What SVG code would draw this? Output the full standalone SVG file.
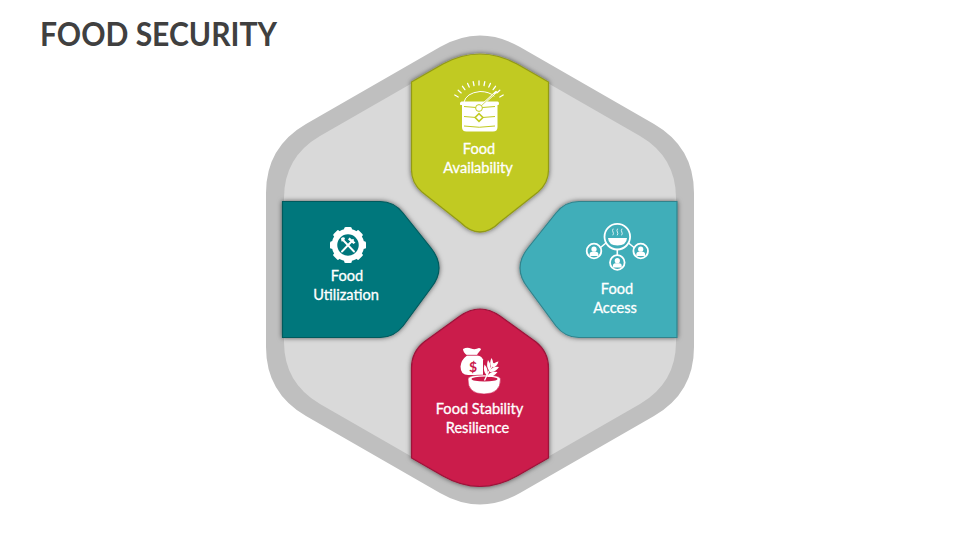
<svg xmlns="http://www.w3.org/2000/svg" xmlns:xlink="http://www.w3.org/1999/xlink" width="960" height="540" viewBox="0 0 960 540">
<style>
.t{font-family:Lato,"Open Sans",sans-serif;font-weight:700;font-size:32px;fill:#404040}
.l{font-family:Lato,"Open Sans",sans-serif;font-size:14.600px;font-weight:400;fill:#fff;stroke:#fff;stroke-width:.3px;text-anchor:middle}
.p{stroke-width:1.200;filter:url(#sh)}
.w{fill:#fff}
.ws{fill:none;stroke:#fff;stroke-linecap:round}
</style>
<defs>
<filter id="sh" x="-10%" y="-10%" width="120%" height="120%"><feDropShadow dx="0" dy="0" stdDeviation="2.500" flood-color="#000" flood-opacity="0.6"/></filter>
<g id="person"><circle r="7.300" fill="none" stroke="#fff" stroke-width="1.800"/><circle cy="-1.800" r="2.600" fill="#fff"/><path d="M-4.400 5V3.400Q-4.400 .8 -1.800 .8H1.800Q4.400 .8 4.400 3.400V5Z" fill="#fff"/></g>
<rect id="tooth" x="-3.800" y="-18" width="7.600" height="7" rx="1.500" fill="#fff"/>
</defs>
<rect width="960" height="540" fill="#fff"/>
<text class="t" x="40" y="46" textLength="237" lengthAdjust="spacingAndGlyphs">FOOD SECURITY</text>
<g id="hexagon">
<path fill="#BFBFBF" d="M440,47Q480,24 520,47L654,124Q694,147 694,193V347Q694,393 654,416L520,493Q480,516 440,493L306,416Q266,393 266,347V193Q266,147 306,124Z"/>
<path fill="#D9D9D9" d="M448,62.500Q480,44 512,62.500L640,136Q676,157 676,198V342Q676,383 640,404L512,477.500Q480,496 448,477.500L320,404Q284,383 284,342V198Q284,157 320,136Z"/>
</g>
<g id="connectors"></g>
<g id="node-availability">
<path class="p" fill="#C1CA20" stroke="#929A18" d="M411.500,82L443,64Q480,44 517,64L548.500,82V170Q548.500,183 538,192L500,222Q480,242 460,222L422,192Q411.500,183 411.500,170Z"/>
<path class="ws" stroke-width="1.300" d="M458.200 97L454.800 95M461.200 92.900L458.200 90.300M464.900 89.600L462.500 86.300M469.200 87.100L467.600 83.400M474 85.500L473.200 81.600M479 85V81M484 85.500L484.800 81.600M488.800 87.100L490.400 83.400M493.100 89.600L495.500 86.300M496.800 92.900L499.800 90.300M499.800 97L503.200 95"/>
<path class="ws" stroke-width="1" d="M464 102Q466 93 480 91.500Q489 91.500 494 96"/>
<path class="w" d="M462 105H460.500Q460 105 460 103.500T461.500 101.500H497.500Q499 101.500 499 103.500T497.500 105H497.500V127Q497.500 131.500 493 131.500H466.500Q462 131.500 462 127Z"/>
<path fill="none" stroke="#C1CA20" stroke-width="1" d="M464 106.500Q479 109 495 106.500M464 116.500Q479 119 495 116.500M464 126Q479 128.500 495 126"/>
<path d="M481 106L496 92" stroke="#fff" stroke-width="2.200" stroke-linecap="round"/>
<path d="M481 106L494 94" stroke="#C1CA20" stroke-width=".7"/>
<circle cx="479" cy="108" r="3.400" fill="#fff" stroke="#C1CA20" stroke-width="1"/>
<path d="M479 112.500L484 117.500L479 122.500L474 117.500Z" fill="#C1CA20"/><path d="M479 114.700L481.800 117.500L479 120.300L476.200 117.500Z" fill="#fff"/>
<text class="l" x="479" y="154">Food</text>
<text class="l" x="478" y="173">Availability</text>
</g>
<g id="node-utilization">
<path class="p" fill="#00777B" stroke="#005A5D" d="M282.500,201.500H380Q394,201.500 403,213L431,248Q447,268 431,288L403,326Q394,337.500 380,337.500H282.500Z"/>
<g transform="translate(348,245)">
<circle r="13.500" fill="none" stroke="#fff" stroke-width="5.500"/>
<use xlink:href="#tooth"/><use xlink:href="#tooth" transform="rotate(45)"/><use xlink:href="#tooth" transform="rotate(90)"/><use xlink:href="#tooth" transform="rotate(135)"/><use xlink:href="#tooth" transform="rotate(180)"/><use xlink:href="#tooth" transform="rotate(225)"/><use xlink:href="#tooth" transform="rotate(270)"/><use xlink:href="#tooth" transform="rotate(315)"/>
<path d="M-6 6.500L5 -5M6 6.500L-5 -5" stroke="#fff" stroke-width="1.900" stroke-linecap="round"/>
<path d="M1.500 -7.500L7.500 -2.500L5.500 -1L0 -5.500ZM-7 -6.500A3 3 0 0 1 -3 -7L-4 -4L-6.500 -3.500Z" fill="#fff"/>
</g>
<text class="l" x="347" y="281">Food</text>
<text class="l" x="346" y="300">Utilization</text>
</g>
<g id="node-access">
<path class="p" fill="#40AEB9" stroke="#31838C" d="M677,201.500H579Q565,201.500 556,213L528,248Q512,268 528,288L556,326Q565,337.500 579,337.500H677Z"/>
<circle cx="617.300" cy="236.700" r="12.800" fill="none" stroke="#fff" stroke-width="1.800"/>
<path class="w" d="M608 238H627Q626.500 245.500 617.500 245.500T608 238Z"/>
<path class="ws" stroke-width=".8" d="M613 229Q612 230.500 613 232T613 235M617.400 229Q616.400 230.500 617.400 232T617.400 235M621.800 229Q620.800 230.500 621.800 232T621.800 235"/>
<path class="ws" stroke-width="1.600" d="M606 243L600.500 247.500M628.500 243L634 247.500M617.300 249.500V255"/>
<use xlink:href="#person" transform="translate(594,251)"/>
<use xlink:href="#person" transform="translate(640.700,251)"/>
<use xlink:href="#person" transform="translate(617.300,262.500)"/>
<text class="l" x="617" y="294">Food</text>
<text class="l" x="615" y="313">Access</text>
</g>
<g id="node-stability">
<path class="p" fill="#CB1A4B" stroke="#9B1339" d="M411.500,458V368Q411.500,352 424,342L460,316Q480,302 500,316L536,342Q548.500,352 548.500,368V458L517,476Q480,497 443,476Z"/>
<path class="w" d="M463 349Q467 347 471 348.500Q475 350 479 348Q481 348 481 349.500L477 354.500Q481 356 483.500 360V375H470Q460.500 376 460.500 366.500Q461 360 467 355.500Q463 352 463 349Z"/>
<path d="M465 355.300H480" stroke="#CB1A4B" stroke-width=".8"/>
<text x="473" y="372" font-family="Lato,'Open Sans',sans-serif" font-size="14" font-weight="700" fill="#CB1A4B" text-anchor="middle">$</text>
<path d="M483 360L500 362V378L483 376Z" fill="#CB1A4B"/>
<path class="w" d="M468 379Q468 375 484 375T500.500 379Q500.500 394 484 394T468 379Z" stroke="#CB1A4B" stroke-width=".6"/>
<ellipse cx="484.500" cy="379" rx="13" ry="2.600" fill="#CB1A4B"/>
<path d="M484.500 380.500Q488 372 494 363" stroke="#fff" stroke-width="1.300" fill="none"/>
<path class="w" d="M487 376Q482.500 371 484.500 364.500Q488.500 369 487.800 375ZM489.500 371Q485.500 366.500 488 360Q491.500 365 490.300 370ZM491.500 367Q489 362.500 491.500 358Q494 362 492.500 366.500ZM487.500 377Q493.500 377.500 497.500 372Q491.500 370.500 487.800 375ZM490 372Q495.500 372.500 499 367Q493 366 490 370.500ZM492.500 367.500Q497 367 498.500 361.500Q494 362 492.200 366Z"/>
<text class="l" x="479.500" y="414">Food Stability</text>
<text class="l" x="477.500" y="433">Resilience</text>
</g>
</svg>
